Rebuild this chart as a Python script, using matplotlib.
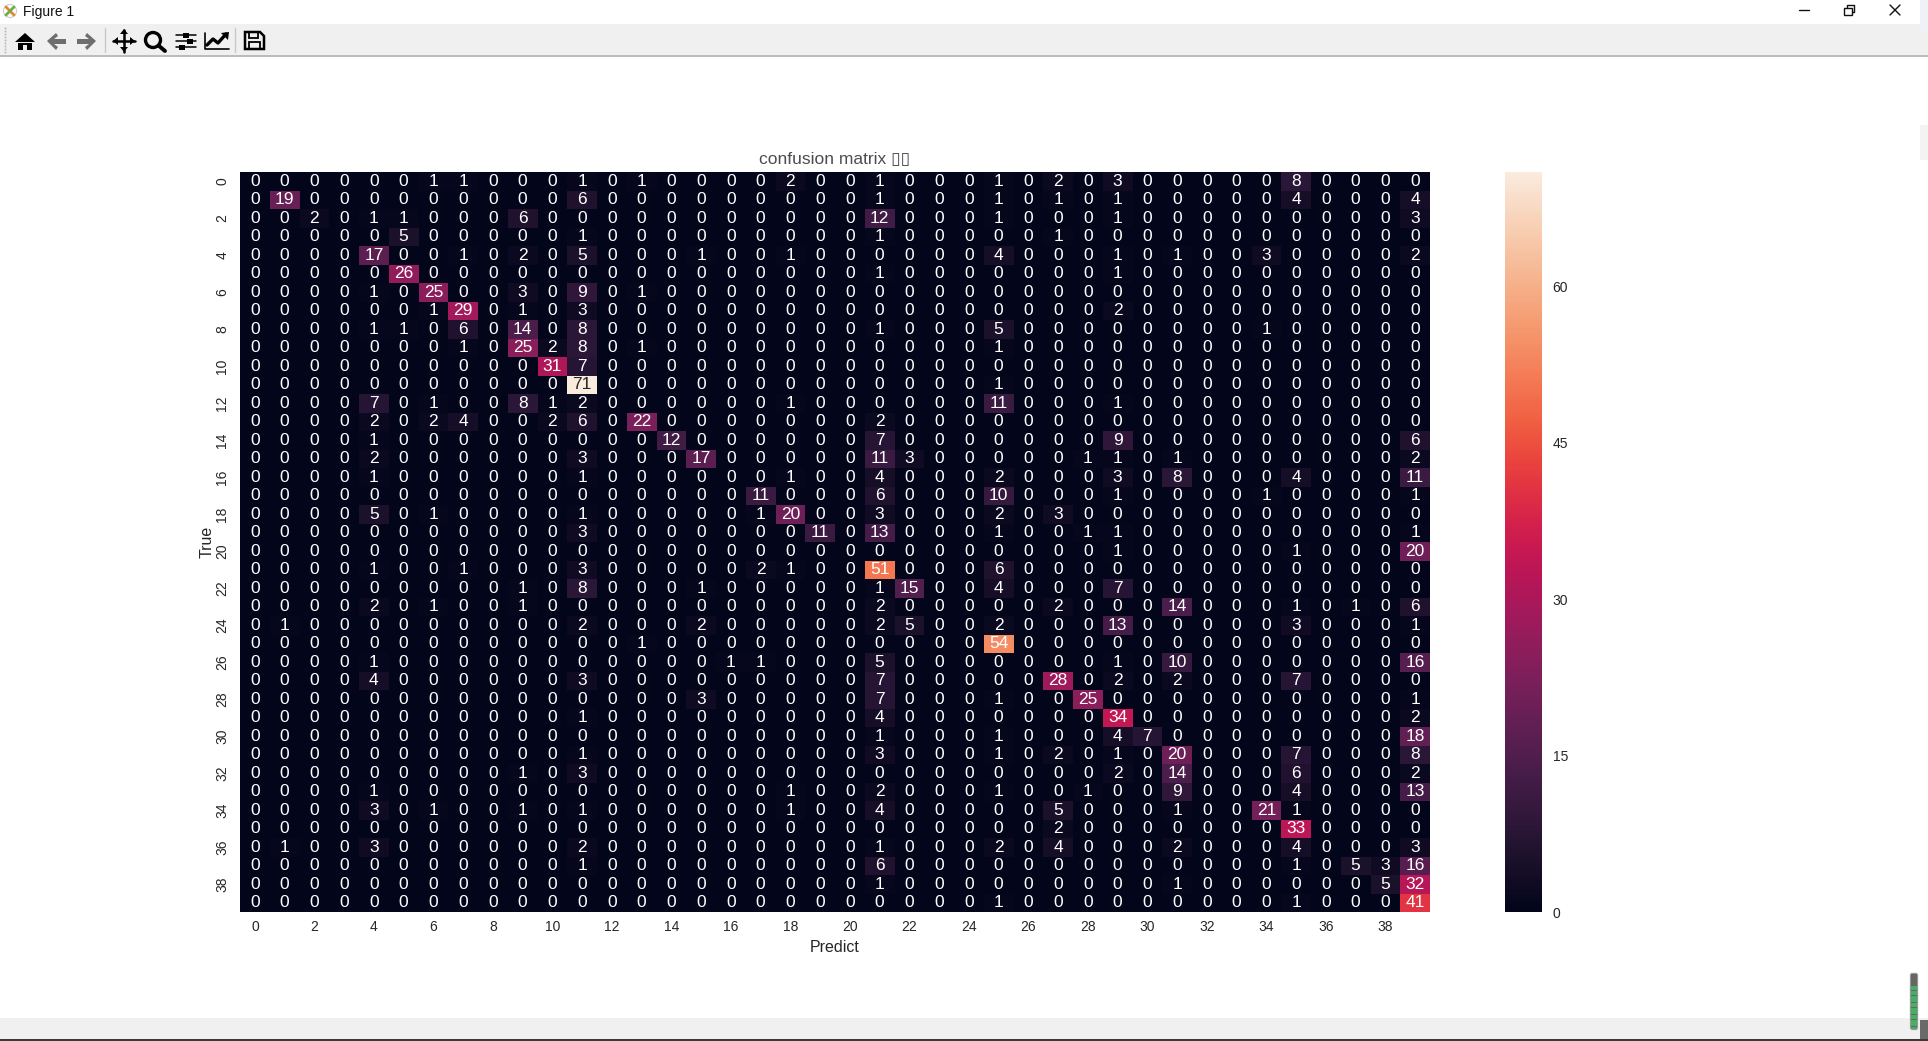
import numpy as np
import seaborn as sns
import matplotlib
matplotlib.use("Agg")
import matplotlib.pyplot as plt
from matplotlib.patches import Rectangle, Circle, Polygon, FancyBboxPatch

# confusion matrix, rows are true labels, columns are predicted labels
cm = [
    [0, 0, 0, 0, 0, 0, 1, 1, 0, 0, 0, 1, 0, 1, 0, 0, 0, 0, 2, 0, 0, 1, 0, 0, 0, 1, 0, 2, 0, 3, 0, 0, 0, 0, 0, 8, 0, 0, 0, 0],
    [0, 19, 0, 0, 0, 0, 0, 0, 0, 0, 0, 6, 0, 0, 0, 0, 0, 0, 0, 0, 0, 1, 0, 0, 0, 1, 0, 1, 0, 1, 0, 0, 0, 0, 0, 4, 0, 0, 0, 4],
    [0, 0, 2, 0, 1, 1, 0, 0, 0, 6, 0, 0, 0, 0, 0, 0, 0, 0, 0, 0, 0, 12, 0, 0, 0, 1, 0, 0, 0, 1, 0, 0, 0, 0, 0, 0, 0, 0, 0, 3],
    [0, 0, 0, 0, 0, 5, 0, 0, 0, 0, 0, 1, 0, 0, 0, 0, 0, 0, 0, 0, 0, 1, 0, 0, 0, 0, 0, 1, 0, 0, 0, 0, 0, 0, 0, 0, 0, 0, 0, 0],
    [0, 0, 0, 0, 17, 0, 0, 1, 0, 2, 0, 5, 0, 0, 0, 1, 0, 0, 1, 0, 0, 0, 0, 0, 0, 4, 0, 0, 0, 1, 0, 1, 0, 0, 3, 0, 0, 0, 0, 2],
    [0, 0, 0, 0, 0, 26, 0, 0, 0, 0, 0, 0, 0, 0, 0, 0, 0, 0, 0, 0, 0, 1, 0, 0, 0, 0, 0, 0, 0, 1, 0, 0, 0, 0, 0, 0, 0, 0, 0, 0],
    [0, 0, 0, 0, 1, 0, 25, 0, 0, 3, 0, 9, 0, 1, 0, 0, 0, 0, 0, 0, 0, 0, 0, 0, 0, 0, 0, 0, 0, 0, 0, 0, 0, 0, 0, 0, 0, 0, 0, 0],
    [0, 0, 0, 0, 0, 0, 1, 29, 0, 1, 0, 3, 0, 0, 0, 0, 0, 0, 0, 0, 0, 0, 0, 0, 0, 0, 0, 0, 0, 2, 0, 0, 0, 0, 0, 0, 0, 0, 0, 0],
    [0, 0, 0, 0, 1, 1, 0, 6, 0, 14, 0, 8, 0, 0, 0, 0, 0, 0, 0, 0, 0, 1, 0, 0, 0, 5, 0, 0, 0, 0, 0, 0, 0, 0, 1, 0, 0, 0, 0, 0],
    [0, 0, 0, 0, 0, 0, 0, 1, 0, 25, 2, 8, 0, 1, 0, 0, 0, 0, 0, 0, 0, 0, 0, 0, 0, 1, 0, 0, 0, 0, 0, 0, 0, 0, 0, 0, 0, 0, 0, 0],
    [0, 0, 0, 0, 0, 0, 0, 0, 0, 0, 31, 7, 0, 0, 0, 0, 0, 0, 0, 0, 0, 0, 0, 0, 0, 0, 0, 0, 0, 0, 0, 0, 0, 0, 0, 0, 0, 0, 0, 0],
    [0, 0, 0, 0, 0, 0, 0, 0, 0, 0, 0, 71, 0, 0, 0, 0, 0, 0, 0, 0, 0, 0, 0, 0, 0, 1, 0, 0, 0, 0, 0, 0, 0, 0, 0, 0, 0, 0, 0, 0],
    [0, 0, 0, 0, 7, 0, 1, 0, 0, 8, 1, 2, 0, 0, 0, 0, 0, 0, 1, 0, 0, 0, 0, 0, 0, 11, 0, 0, 0, 1, 0, 0, 0, 0, 0, 0, 0, 0, 0, 0],
    [0, 0, 0, 0, 2, 0, 2, 4, 0, 0, 2, 6, 0, 22, 0, 0, 0, 0, 0, 0, 0, 2, 0, 0, 0, 0, 0, 0, 0, 0, 0, 0, 0, 0, 0, 0, 0, 0, 0, 0],
    [0, 0, 0, 0, 1, 0, 0, 0, 0, 0, 0, 0, 0, 0, 12, 0, 0, 0, 0, 0, 0, 7, 0, 0, 0, 0, 0, 0, 0, 9, 0, 0, 0, 0, 0, 0, 0, 0, 0, 6],
    [0, 0, 0, 0, 2, 0, 0, 0, 0, 0, 0, 3, 0, 0, 0, 17, 0, 0, 0, 0, 0, 11, 3, 0, 0, 0, 0, 0, 1, 1, 0, 1, 0, 0, 0, 0, 0, 0, 0, 2],
    [0, 0, 0, 0, 1, 0, 0, 0, 0, 0, 0, 1, 0, 0, 0, 0, 0, 0, 1, 0, 0, 4, 0, 0, 0, 2, 0, 0, 0, 3, 0, 8, 0, 0, 0, 4, 0, 0, 0, 11],
    [0, 0, 0, 0, 0, 0, 0, 0, 0, 0, 0, 0, 0, 0, 0, 0, 0, 11, 0, 0, 0, 6, 0, 0, 0, 10, 0, 0, 0, 1, 0, 0, 0, 0, 1, 0, 0, 0, 0, 1],
    [0, 0, 0, 0, 5, 0, 1, 0, 0, 0, 0, 1, 0, 0, 0, 0, 0, 1, 20, 0, 0, 3, 0, 0, 0, 2, 0, 3, 0, 0, 0, 0, 0, 0, 0, 0, 0, 0, 0, 0],
    [0, 0, 0, 0, 0, 0, 0, 0, 0, 0, 0, 3, 0, 0, 0, 0, 0, 0, 0, 11, 0, 13, 0, 0, 0, 1, 0, 0, 1, 1, 0, 0, 0, 0, 0, 0, 0, 0, 0, 1],
    [0, 0, 0, 0, 0, 0, 0, 0, 0, 0, 0, 0, 0, 0, 0, 0, 0, 0, 0, 0, 0, 0, 0, 0, 0, 0, 0, 0, 0, 1, 0, 0, 0, 0, 0, 1, 0, 0, 0, 20],
    [0, 0, 0, 0, 1, 0, 0, 1, 0, 0, 0, 3, 0, 0, 0, 0, 0, 2, 1, 0, 0, 51, 0, 0, 0, 6, 0, 0, 0, 0, 0, 0, 0, 0, 0, 0, 0, 0, 0, 0],
    [0, 0, 0, 0, 0, 0, 0, 0, 0, 1, 0, 8, 0, 0, 0, 1, 0, 0, 0, 0, 0, 1, 15, 0, 0, 4, 0, 0, 0, 7, 0, 0, 0, 0, 0, 0, 0, 0, 0, 0],
    [0, 0, 0, 0, 2, 0, 1, 0, 0, 1, 0, 0, 0, 0, 0, 0, 0, 0, 0, 0, 0, 2, 0, 0, 0, 0, 0, 2, 0, 0, 0, 14, 0, 0, 0, 1, 0, 1, 0, 6],
    [0, 1, 0, 0, 0, 0, 0, 0, 0, 0, 0, 2, 0, 0, 0, 2, 0, 0, 0, 0, 0, 2, 5, 0, 0, 2, 0, 0, 0, 13, 0, 0, 0, 0, 0, 3, 0, 0, 0, 1],
    [0, 0, 0, 0, 0, 0, 0, 0, 0, 0, 0, 0, 0, 1, 0, 0, 0, 0, 0, 0, 0, 0, 0, 0, 0, 54, 0, 0, 0, 0, 0, 0, 0, 0, 0, 0, 0, 0, 0, 0],
    [0, 0, 0, 0, 1, 0, 0, 0, 0, 0, 0, 0, 0, 0, 0, 0, 1, 1, 0, 0, 0, 5, 0, 0, 0, 0, 0, 0, 0, 1, 0, 10, 0, 0, 0, 0, 0, 0, 0, 16],
    [0, 0, 0, 0, 4, 0, 0, 0, 0, 0, 0, 3, 0, 0, 0, 0, 0, 0, 0, 0, 0, 7, 0, 0, 0, 0, 0, 28, 0, 2, 0, 2, 0, 0, 0, 7, 0, 0, 0, 0],
    [0, 0, 0, 0, 0, 0, 0, 0, 0, 0, 0, 0, 0, 0, 0, 3, 0, 0, 0, 0, 0, 7, 0, 0, 0, 1, 0, 0, 25, 0, 0, 0, 0, 0, 0, 0, 0, 0, 0, 1],
    [0, 0, 0, 0, 0, 0, 0, 0, 0, 0, 0, 1, 0, 0, 0, 0, 0, 0, 0, 0, 0, 4, 0, 0, 0, 0, 0, 0, 0, 34, 0, 0, 0, 0, 0, 0, 0, 0, 0, 2],
    [0, 0, 0, 0, 0, 0, 0, 0, 0, 0, 0, 0, 0, 0, 0, 0, 0, 0, 0, 0, 0, 1, 0, 0, 0, 1, 0, 0, 0, 4, 7, 0, 0, 0, 0, 0, 0, 0, 0, 18],
    [0, 0, 0, 0, 0, 0, 0, 0, 0, 0, 0, 1, 0, 0, 0, 0, 0, 0, 0, 0, 0, 3, 0, 0, 0, 1, 0, 2, 0, 1, 0, 20, 0, 0, 0, 7, 0, 0, 0, 8],
    [0, 0, 0, 0, 0, 0, 0, 0, 0, 1, 0, 3, 0, 0, 0, 0, 0, 0, 0, 0, 0, 0, 0, 0, 0, 0, 0, 0, 0, 2, 0, 14, 0, 0, 0, 6, 0, 0, 0, 2],
    [0, 0, 0, 0, 1, 0, 0, 0, 0, 0, 0, 0, 0, 0, 0, 0, 0, 0, 1, 0, 0, 2, 0, 0, 0, 1, 0, 0, 1, 0, 0, 9, 0, 0, 0, 4, 0, 0, 0, 13],
    [0, 0, 0, 0, 3, 0, 1, 0, 0, 1, 0, 1, 0, 0, 0, 0, 0, 0, 1, 0, 0, 4, 0, 0, 0, 0, 0, 5, 0, 0, 0, 1, 0, 0, 21, 1, 0, 0, 0, 0],
    [0, 0, 0, 0, 0, 0, 0, 0, 0, 0, 0, 0, 0, 0, 0, 0, 0, 0, 0, 0, 0, 0, 0, 0, 0, 0, 0, 2, 0, 0, 0, 0, 0, 0, 0, 33, 0, 0, 0, 0],
    [0, 1, 0, 0, 3, 0, 0, 0, 0, 0, 0, 2, 0, 0, 0, 0, 0, 0, 0, 0, 0, 1, 0, 0, 0, 2, 0, 4, 0, 0, 0, 2, 0, 0, 0, 4, 0, 0, 0, 3],
    [0, 0, 0, 0, 0, 0, 0, 0, 0, 0, 0, 1, 0, 0, 0, 0, 0, 0, 0, 0, 0, 6, 0, 0, 0, 0, 0, 0, 0, 0, 0, 0, 0, 0, 0, 1, 0, 5, 3, 16],
    [0, 0, 0, 0, 0, 0, 0, 0, 0, 0, 0, 0, 0, 0, 0, 0, 0, 0, 0, 0, 0, 1, 0, 0, 0, 0, 0, 0, 0, 0, 0, 1, 0, 0, 0, 0, 0, 0, 5, 32],
    [0, 0, 0, 0, 0, 0, 0, 0, 0, 0, 0, 0, 0, 0, 0, 0, 0, 0, 0, 0, 0, 0, 0, 0, 0, 1, 0, 0, 0, 0, 0, 0, 0, 0, 0, 1, 0, 0, 0, 41],
]
cbar_ticks = [0, 15, 30, 45, 60]
title = "confusion matrix \u25af\u25af"
x_label = "Predict"
y_label = "True"

W, H = 1928, 1041

sns.set_theme(style="white")
plt.rcParams['font.family'] = ['Liberation Sans', 'DejaVu Sans']


def box(x0, y0, x1, y1):
    # figure axes rect from pixel edges, y counted from the top
    return [x0 / W, 1 - y1 / H, (x1 - x0) / W, (y1 - y0) / H]


fig = plt.figure(figsize=(W / 100, H / 100), dpi=100, facecolor="white")
ax = fig.add_axes(box(240, 172, 1430, 912))
cax = fig.add_axes(box(1505, 172, 1542, 912))

sns.heatmap(np.array(cm), annot=True, fmt="d", cmap=sns.color_palette("rocket", as_cmap=True),
            ax=ax, cbar_ax=cax, annot_kws={"size": 12.5},
            xticklabels=2, yticklabels=2)
ax.set_title(title, fontsize=12.5, color=".3", pad=6)
ax.set_xlabel(x_label, fontsize=11.5, color=".15", labelpad=4)
ax.set_ylabel(y_label, fontsize=11.5, color=".15", labelpad=0.6)
ax.tick_params(axis="x", length=0, labelsize=10, labelcolor=".15", pad=5.8)
ax.tick_params(axis="y", length=0, labelsize=10, labelcolor=".15", labelrotation=90, pad=7.6)
cax.set_yticks(cbar_ticks)
cax.tick_params(length=0, labelsize=10, labelcolor=".15", pad=7.6)

# window chrome, drawn on a full figure overlay in pixel coordinates
ui = fig.add_axes([0, 0, 1, 1], zorder=-1)
ui.set_xlim(0, W)
ui.set_ylim(H, 0)
ui.axis("off")
top = fig.add_axes([0, 0, 1, 1], zorder=5, facecolor="none")
top.set_xlim(0, W)
top.set_ylim(H, 0)
top.axis("off")

ui.add_patch(Rectangle((0, 24), W, 32, color="#f0f0f0", lw=0))
ui.add_patch(Rectangle((0, 55), W, 1.5, color="#bcbcbc", lw=0))
ui.add_patch(Rectangle((0, 1018), W, 21, color="#f0f0f0", lw=0))
ui.add_patch(Rectangle((0, 1039), W, 2, color="#3a3a3a", lw=0))
ui.add_patch(Rectangle((1920, 1020), 8, 19, color="#6a6a6a", lw=0))
ui.add_patch(Rectangle((1920, 0), 8, 33, color="#eef1f5", lw=0))
ui.add_patch(Rectangle((1920, 125), 8, 35, color="#f3f3f3", lw=0))

# title bar
top.add_patch(Circle((10, 11), 6.5, fc="white", ec="#cccccc", lw=0.8))
top.plot([6, 14], [7, 15], color="#e8862a", lw=2)
top.plot([6, 14], [15, 7], color="#6fae45", lw=2)
top.text(23, 12, "Figure 1", fontsize=10, color="#111111", va="center", ha="left")
top.plot([1799, 1809], [10, 10], color="#111111", lw=1)
top.add_patch(Rectangle((1844, 8), 8, 7, fc="white", ec="#111111", lw=1))
top.plot([1847, 1847, 1854, 1854, 1852], [8, 5, 5, 12, 12], color="#111111", lw=1)
top.plot([1890, 1900], [5, 15], color="#111111", lw=1)
top.plot([1890, 1900], [15, 5], color="#111111", lw=1)

# toolbar handle and separators
top.plot([5] * 9, np.arange(28, 55, 3), ls="", marker="s", ms=1.2, mew=0, color="#b5b5b5")
for sx in [105, 235]:
    top.plot([sx, sx], [28, 52], color="#c8c8c8", lw=1)

# home
top.add_patch(Polygon([(15, 42), (25, 33), (35, 42)], color="black", lw=0))
top.add_patch(Rectangle((18, 43), 14, 7, color="black", lw=0))
top.add_patch(Rectangle((23, 45), 4, 5, color="#f0f0f0", lw=0))
# back and forward
for x_tip, sgn in [(47, 1), (96, -1)]:
    top.add_patch(Polygon([(x_tip, 41), (x_tip + sgn * 9, 33), (x_tip + sgn * 11, 36), (x_tip + sgn * 7, 39),
                           (x_tip + sgn * 19, 39), (x_tip + sgn * 19, 44), (x_tip + sgn * 7, 44),
                           (x_tip + sgn * 11, 47), (x_tip + sgn * 9, 50)], color="#6e6e6e", lw=0))
# move
top.plot([113, 135], [41, 41], color="black", lw=1.8)
top.plot([124, 124], [30, 52], color="black", lw=1.8)
for pts in [[(113, 41), (118, 37), (118, 45)], [(135, 41), (130, 37), (130, 45)],
            [(124, 29), (120, 34), (128, 34)], [(124, 52), (120, 47), (128, 47)]]:
    top.add_patch(Polygon(pts, color="black", lw=0))
# zoom
top.add_patch(Circle((153, 40), 7.5, fc="none", ec="black", lw=2.4))
top.plot([158.5, 165], [45.5, 51], color="black", lw=2.8)
# sliders
for sy, sx in [(35, 186), (41, 190), (47, 182)]:
    top.plot([176, 196], [sy, sy], color="black", lw=1.1)
    top.add_patch(Rectangle((sx - 3, sy - 2.5), 6, 5, color="black", lw=0))
# chart
top.plot([205, 205, 229], [33, 49, 49], color="black", lw=1.2)
top.plot([207, 213, 218, 226], [45, 39, 43, 34], color="black", lw=2.4)
top.add_patch(Polygon([(221, 33), (229, 32), (228, 40)], color="black", lw=0))
# save
top.add_patch(Polygon([(245, 32), (260, 32), (264, 36), (264, 49), (245, 49)], fc="none", ec="black", lw=1.8))
top.add_patch(Rectangle((249, 32), 9, 6, fc="none", ec="black", lw=1.3))
top.add_patch(Rectangle((249, 42), 11, 7, fc="none", ec="black", lw=1.3))

# green scroll grip at the right
top.add_patch(FancyBboxPatch((1912, 975), 4, 53, boxstyle="round,pad=2", fc="#666666", ec="#dddddd", lw=0.6))
top.hlines(np.arange(987, 1029, 2.4), 1911, 1917, color="#3fbf63", lw=1.2)

fig.savefig("out.png", dpi=100)
